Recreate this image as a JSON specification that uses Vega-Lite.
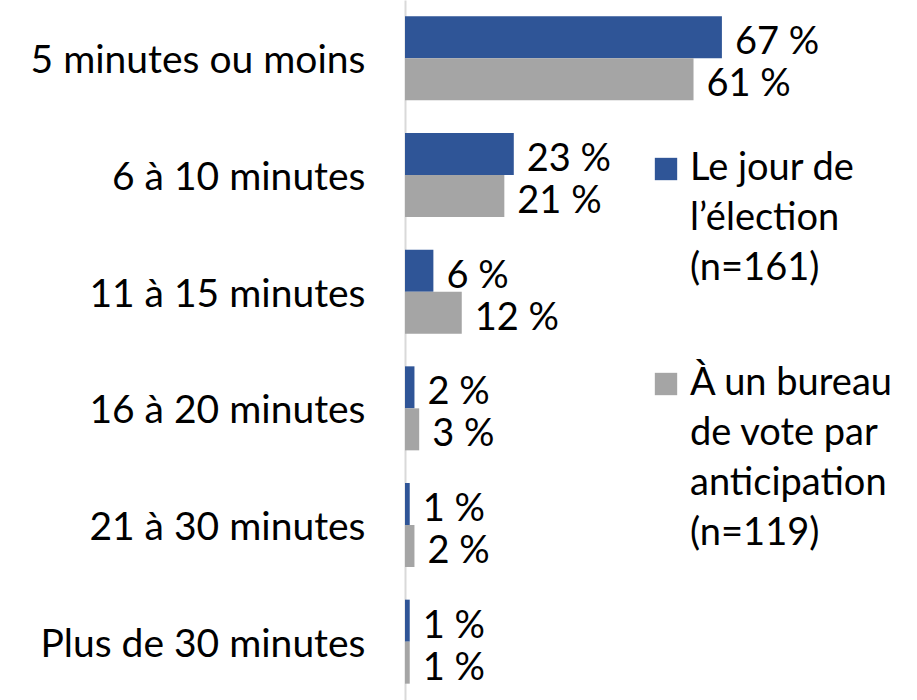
{
  "$schema": "https://vega.github.io/schema/vega-lite/v6.json",
  "width": 473,
  "height": 700,
  "autosize": {"type": "none"},
  "padding": {"left": 405, "top": 0, "right": 39, "bottom": 0},
  "background": "white",
  "config": {
    "view": {"stroke": null},
    "font": "Lato",
    "style": {"guide-label": {"lineHeight": 50}}
  },
  "data": {
    "values": [
      {"cat": "5 minutes ou moins", "series": "Le jour de l’élection (n=161)", "value": 67, "label": "67 %"},
      {"cat": "5 minutes ou moins", "series": "À un bureau de vote par anticipation (n=119)", "value": 61, "label": "61 %"},
      {"cat": "6 à 10 minutes", "series": "Le jour de l’élection (n=161)", "value": 23, "label": "23 %"},
      {"cat": "6 à 10 minutes", "series": "À un bureau de vote par anticipation (n=119)", "value": 21, "label": "21 %"},
      {"cat": "11 à 15 minutes", "series": "Le jour de l’élection (n=161)", "value": 6, "label": "6 %"},
      {"cat": "11 à 15 minutes", "series": "À un bureau de vote par anticipation (n=119)", "value": 12, "label": "12 %"},
      {"cat": "16 à 20 minutes", "series": "Le jour de l’élection (n=161)", "value": 2, "label": "2 %"},
      {"cat": "16 à 20 minutes", "series": "À un bureau de vote par anticipation (n=119)", "value": 3, "label": "3 %"},
      {"cat": "21 à 30 minutes", "series": "Le jour de l’élection (n=161)", "value": 1, "label": "1 %"},
      {"cat": "21 à 30 minutes", "series": "À un bureau de vote par anticipation (n=119)", "value": 2, "label": "2 %"},
      {"cat": "Plus de 30 minutes", "series": "Le jour de l’élection (n=161)", "value": 1, "label": "1 %"},
      {"cat": "Plus de 30 minutes", "series": "À un bureau de vote par anticipation (n=119)", "value": 1, "label": "1 %"}
    ]
  },
  "encoding": {
    "y": {
      "field": "cat",
      "type": "nominal",
      "sort": ["5 minutes ou moins", "6 à 10 minutes", "11 à 15 minutes", "16 à 20 minutes", "21 à 30 minutes", "Plus de 30 minutes"],
      "scale": {"paddingInner": 0.28, "paddingOuter": 0.14},
      "axis": {
        "title": null,
        "labelFontSize": 39,
        "labelColor": "#000000",
        "labelPadding": 40,
        "labelOffset": 3,
        "ticks": false,
        "domainColor": "#D9D9D9",
        "domainWidth": 2,
        "labelLimit": 400
      }
    },
    "yOffset": {
      "field": "series",
      "type": "nominal",
      "sort": ["Le jour de l’élection (n=161)", "À un bureau de vote par anticipation (n=119)"]
    },
    "x": {
      "field": "value",
      "type": "quantitative",
      "scale": {"domain": [0, 100]},
      "axis": null
    }
  },
  "layer": [
    {
      "mark": {"type": "bar"},
      "encoding": {
        "color": {
          "field": "series",
          "type": "nominal",
          "sort": ["Le jour de l’élection (n=161)", "À un bureau de vote par anticipation (n=119)"],
          "scale": {"range": ["#2F5597", "#A5A5A5"]},
          "legend": {
            "orient": "none",
            "legendX": 242,
            "legendY": 150,
            "title": null,
            "symbolType": "square",
            "symbolSize": 500,
            "symbolStrokeWidth": 0,
            "labelFontSize": 38,
            "labelColor": "#000000",
            "labelLimit": 300,
            "labelOffset": 5,
            "labelBaseline": "middle",
            "rowPadding": 77,
            "labelExpr": "datum.label == 'Le jour de l’élection (n=161)' ? ['Le jour de', 'l’élection', '(n=161)'] : ['À un bureau', 'de vote par', 'anticipation', '(n=119)']"
          }
        }
      }
    },
    {
      "mark": {"type": "text", "align": "left", "baseline": "middle", "dx": 13, "dy": 6, "fontSize": 38, "color": "#000000"},
      "encoding": {"text": {"field": "label"}}
    }
  ]
}
